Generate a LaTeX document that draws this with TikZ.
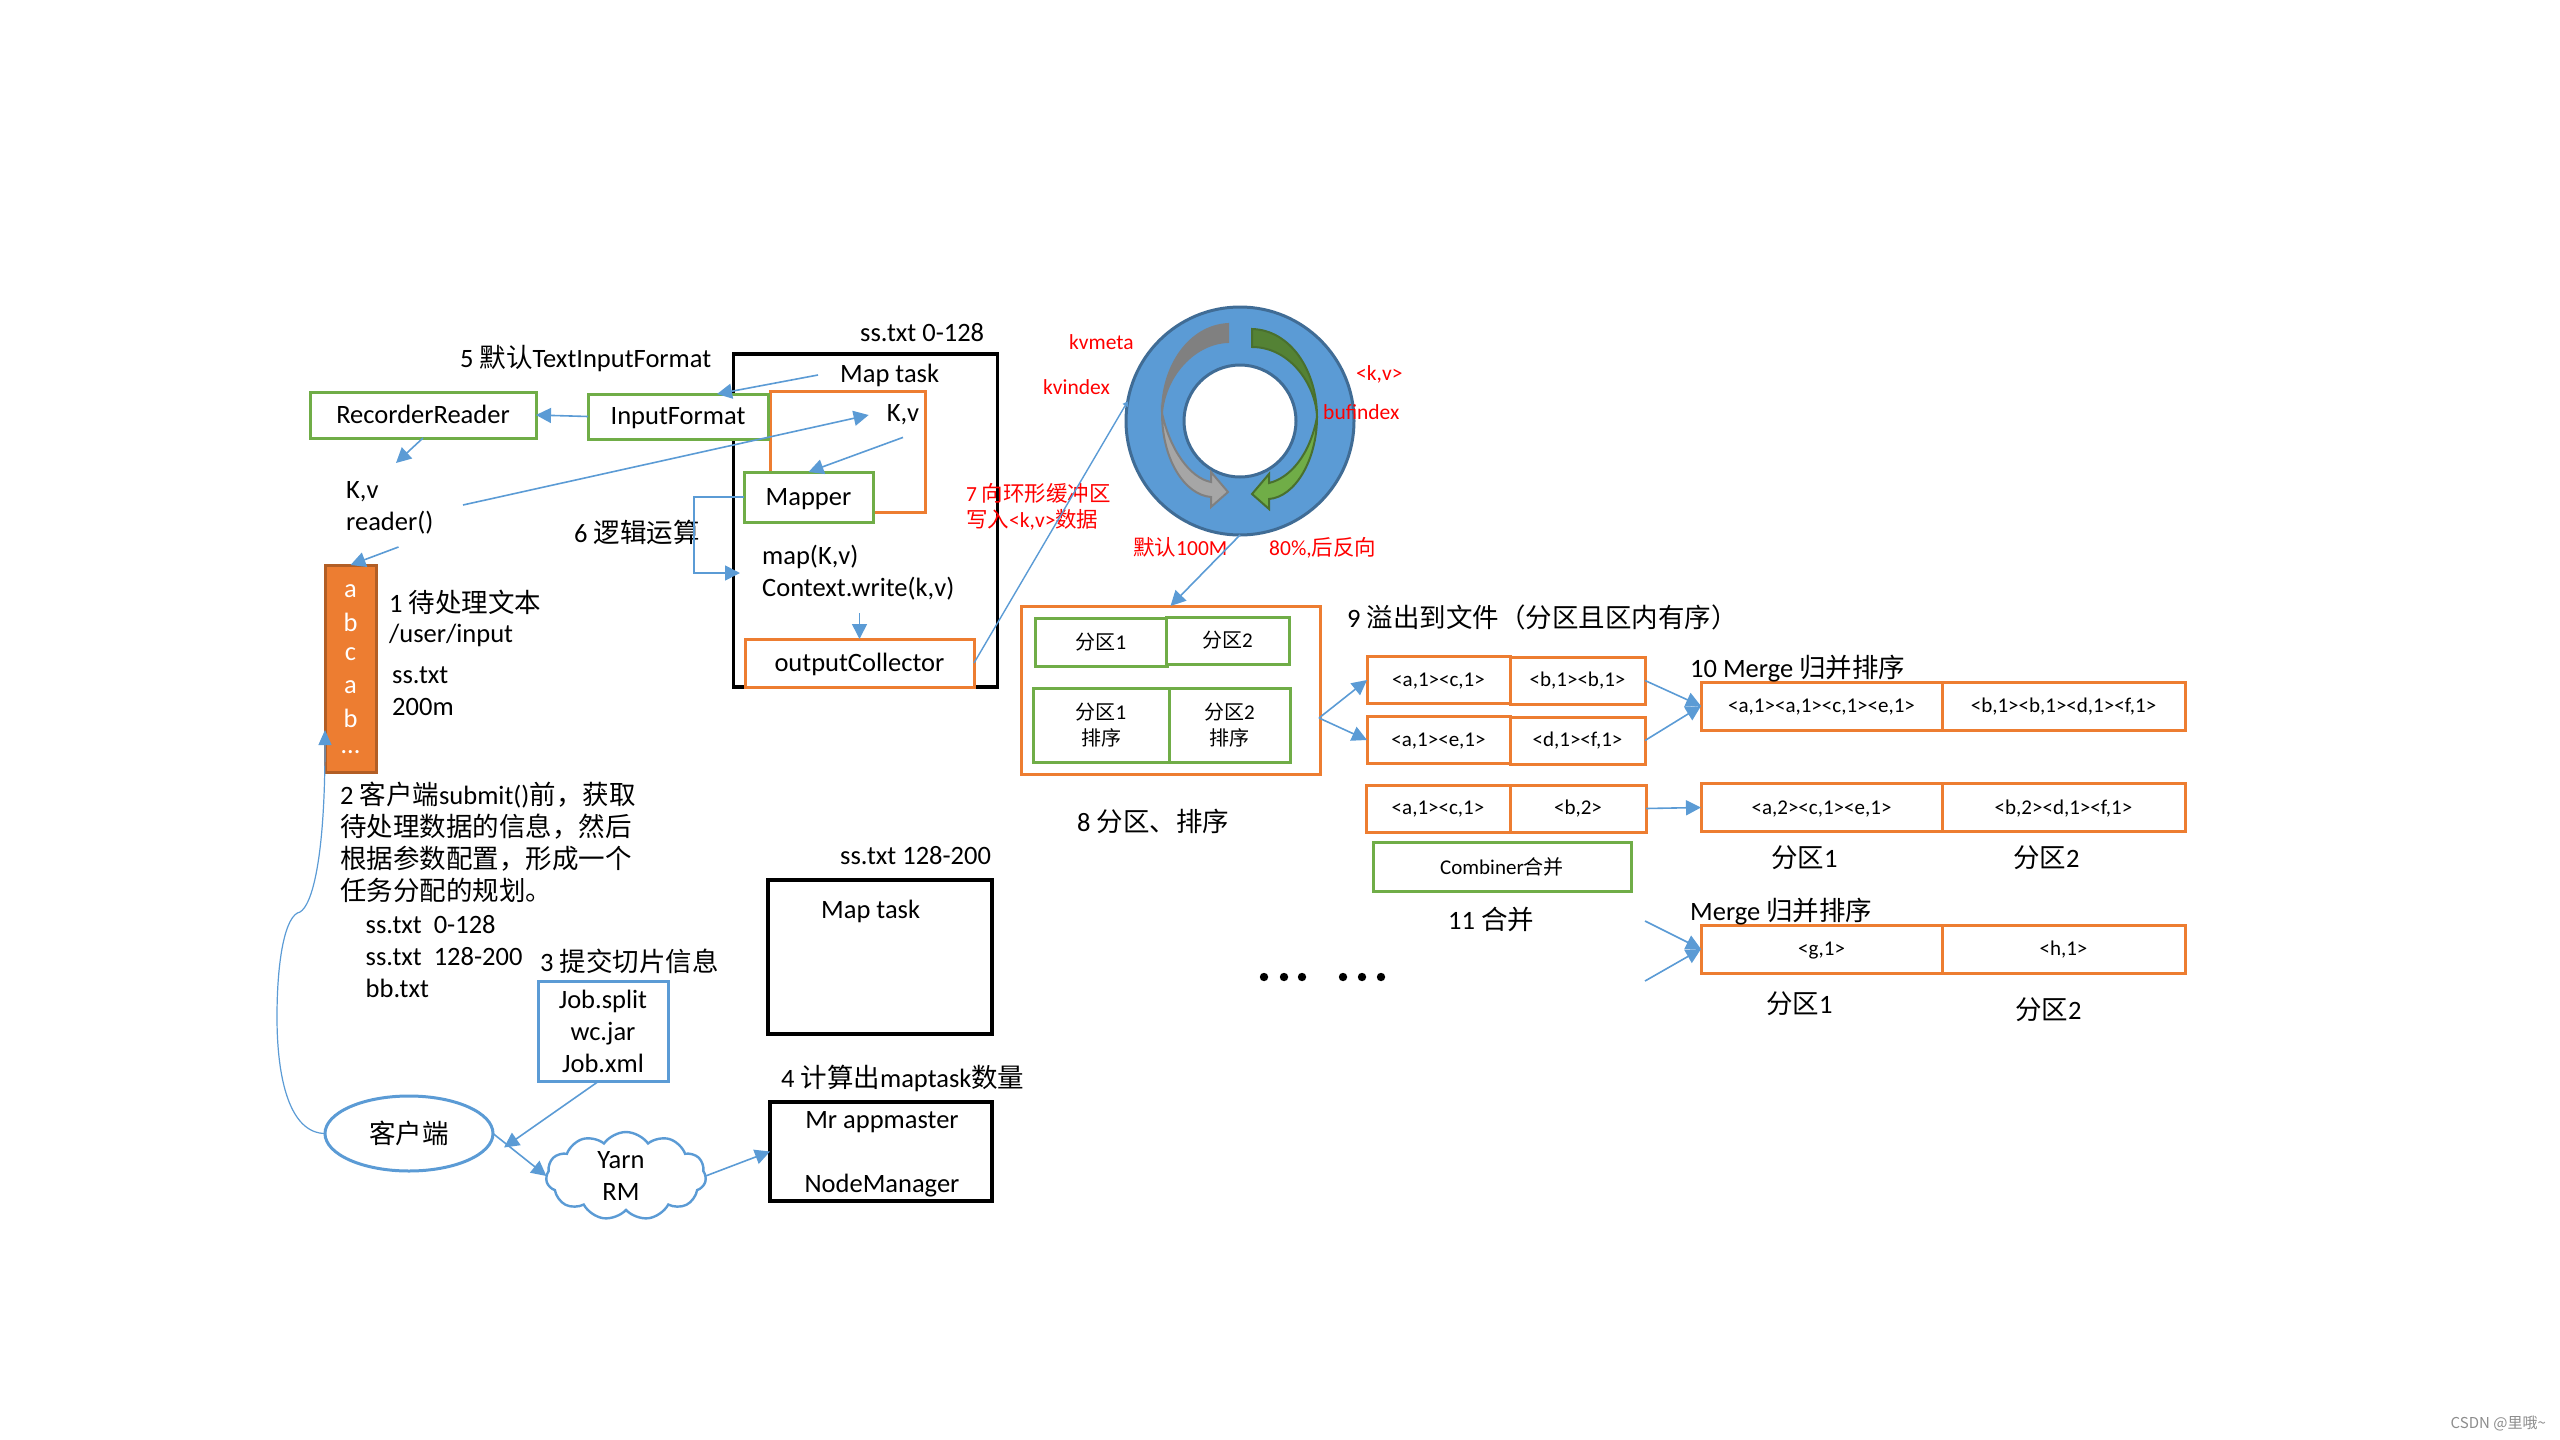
\documentclass[tikz,border=0pt]{standalone}
\usepackage{fontspec}
\setmainfont{Carlito}
\newfontfamily\cjk{Noto Sans CJK SC}
\usetikzlibrary{arrows.meta,shapes.geometric,shapes.symbols}
\definecolor{lineblue}{HTML}{5B9BD5}
\definecolor{boxgreen}{HTML}{70AD47}
\definecolor{boxorange}{HTML}{ED7D31}
\newcommand{\cnb}[1]{{\cjk\fontsize{26.5}{30}\selectfont #1}}
\newcommand{\cns}[1]{{\cjk\fontsize{20}{22}\selectfont #1}}
\newcommand{\cnr}[1]{{\cjk\fontsize{21.5}{26}\selectfont #1}}
\tikzset{
    lbl/.style={inner sep=0pt,font=\fontsize{26.5}{32}\selectfont,align=left},
    boxtext/.style={font=\fontsize{26.5}{30}\selectfont,text height=20pt,text depth=4pt},
    small/.style={inner sep=0pt,font=\fontsize{21}{26}\selectfont,align=center},
    redlbl/.style={inner sep=0pt,text=red,font=\fontsize{21.5}{26}\selectfont,align=left},
    boxbase/.style={draw,fill=white,line width=3pt,inner sep=0pt,outer sep=0pt,align=center},
    greenbox/.style={boxbase,draw=boxgreen},
    orangebox/.style={boxbase,draw=boxorange},
    blackbox/.style={boxbase,draw=black,line width=3.5pt},
    conn/.style={draw=lineblue,line width=1.6pt,-{Triangle[length=15pt,width=15pt,fill=lineblue]}},
}
\begin{document}
\begin{tikzpicture}[x=1pt,y=-1pt]
        \useasboundingbox (0,0) rectangle (2560,1440);
        % map task frames
        \node[blackbox,minimum width=264,minimum height=333] (task) at (865.5,520.5) {};
        \node[blackbox,minimum width=224,minimum height=154] (taskb) at (880,957) {};
        \node[blackbox,minimum width=222,minimum height=99] (mrbox) at (881,1151.5) {};
        \node[orangebox,minimum width=155,minimum height=121] (kvbox) at (847.5,451.5) {};
        \node[greenbox,boxtext,minimum width=226,minimum height=46] (reader) at (423,415) {RecorderReader};
        \node[greenbox,boxtext,minimum width=180,minimum height=45] (format) at (678,416.5) {InputFormat};
        \node[greenbox,boxtext,minimum width=129,minimum height=50] (mapper) at (808.5,497) {Mapper};
        \node[orangebox,boxtext,minimum width=229,minimum height=48] (collect) at (859.5,663) {outputCollector};
        % input file
        \node[boxbase,fill=boxorange,draw=boxorange!75!black,minimum width=51,minimum height=207] (file) at (350.5,668.5) {};
        \foreach \n/\y/\t in {fa/591/a,fb/622/b,fc/654/c,fd/687/a,fe/718/b,ff/752/\ldots} {
            \node[lbl,text=white] (\n) at (350.5,\y) {\t};
        }
        % ring buffer
        \node[circle,draw=lineblue!70!black,fill=lineblue,line width=3pt,minimum size=228,inner sep=0pt,outer sep=0pt] (ring) at (1240,421) {};
        \node[circle,draw=lineblue!70!black,fill=white,line width=3pt,minimum size=112,inner sep=0pt] (hole) at (1240,421) {};
        \fill[fill=black!50,draw=black!50,line width=2pt] (1228,324) .. controls (1190,326) and (1162,365) .. (1162,413) .. controls (1165,375) and (1195,343) .. (1228,342) -- cycle;
        \fill[fill=black!35,draw=black!50,line width=2pt] (1162,413) .. controls (1162,460) and (1185,495) .. (1211,497) -- (1211,507) -- (1228,492) -- (1211,472) -- (1211,482) .. controls (1190,478) and (1170,450) .. (1162,413) -- cycle;
        \fill[fill=boxgreen!75!black,draw=boxgreen!65!black,line width=2pt] (1252,329) .. controls (1290,330) and (1317,370) .. (1317,417) .. controls (1316,385) and (1290,347) .. (1252,347) -- cycle;
        \fill[fill=boxgreen,draw=boxgreen!65!black,line width=2pt] (1317,417) .. controls (1317,460) and (1295,497) .. (1269,499) -- (1269,509) -- (1252,494) -- (1269,474) -- (1269,483) .. controls (1290,478) and (1310,455) .. (1317,417) -- cycle;
        % partitions
        \node[orangebox,minimum width=299,minimum height=168] (sorted) at (1170.5,690) {};
        \foreach \n/\x/\y/\w/\h/\t in {pa/1101/642/132/48/{\cns{分区}1},pb/1227.5/640.5/123/47/{\cns{分区}2},pc/1101/725/136/74/{\cns{分区}1\\\cns{排序}},pd/1229.5/725/121/74/{\cns{分区}2\\\cns{排序}}} {
            \node[greenbox,small,line width=3pt,minimum width=\w,minimum height=\h] (\n) at (\x,\y) {\t};
        }
        \foreach \n/\x/\y/\w/\t in {ra/1438.5/680/143/{<a,1><c,1>},rb/1577.5/680.5/135/{<b,1><b,1>},rc/1438.5/740/143/{<a,1><e,1>},rd/1577.5/740.5/135/{<d,1><f,1>},re/1438/808.5/144/{<a,1><c,1>},rf/1578/808.5/136/{<b,2>}} {
            \node[orangebox,small,text height=16pt,text depth=4pt,minimum width=\w,minimum height=47] (\n) at (\x,\y) {\t};
        }
        \node[greenbox,small,minimum width=258,minimum height=49] (combine) at (1502,866.5) {Combiner\cns{合并}};
        \foreach \n/\y/\a/\b in {m/706/{<a,1><a,1><c,1><e,1>}/{<b,1><b,1><d,1><f,1>},s/807.5/{<a,2><c,1><e,1>}/{<b,2><d,1><f,1>},t/949/{<g,1>}/{<h,1>}} {
            \node[orangebox,small,text height=17pt,text depth=4pt,minimum width=241,minimum height=48] (\n a) at (1821.5,\y) {\a};
            \node[orangebox,small,text height=17pt,text depth=4pt,minimum width=243,minimum height=48] (\n b) at (2063.5,\y) {\b};
        }
        % client side
        \node[boxbase,draw=lineblue,font=\fontsize{26.5}{32}\selectfont,minimum width=130,minimum height=100] (job) at (603,1031) {Job.split\\wc.jar\\Job.xml};
        \node[ellipse,boxbase,draw=lineblue,minimum width=168,minimum height=75] (client) at (409,1133.5) {\cnb{客户端}};
        \node[cloud,cloud puffs=11,cloud puff arc=110,aspect=1.9,boxbase,draw=lineblue,line width=2.4pt,minimum width=160,minimum height=88] (yarn) at (626,1176) {};
        \node[lbl,align=center] (lyarn) at (621,1175.5) {Yarn\\RM};
        % texts
        \node[lbl,anchor=west] (topname) at (860,333) {ss.txt 0-128};
        \node[lbl,anchor=west] (lfive) at (460,359) {5 \cnb{默认}TextInputFormat};
        \node[lbl,anchor=west] (lmap) at (840,375) {Map task};
        \node[lbl] (lkv) at (903,415) {K,v};
        \node[lbl,anchor=west] (lread) at (346,508) {K,v\\reader()};
        \node[lbl,anchor=west] (lsix) at (574,532) {6 \cnb{逻辑运算}};
        \node[lbl,anchor=west] (lcode) at (762,573) {map(K,v)\\Context.write(k,v)};
        \node[lbl,anchor=west] (lone) at (389,602) {1 \cnb{待处理文本}};
        \node[lbl,anchor=west] (lpath) at (389,635) {/user/input};
        \node[lbl,anchor=west] (lsize) at (392,691) {ss.txt\\200m};
        \node[lbl,anchor=west] (ltwo) at (340,842) {2 \cnb{客户端}submit()\cnb{前，获取}\\\cnb{待处理数据的信息，然后}\\\cnb{根据参数配置，形成一个}\\\cnb{任务分配的规划。}};
        \node[lbl,anchor=west] (lfiles) at (365.5,957) {ss.txt\ \ 0-128\\ss.txt\ \ 128-200\\bb.txt};
        \node[lbl,anchor=west] (lthree) at (540,961) {3 \cnb{提交切片信息}};
        \node[lbl,anchor=west] (ltop2) at (840,856) {ss.txt 128-200};
        \node[lbl,anchor=west] (lmap2) at (821,911) {Map task};
        \node[lbl,anchor=west] (lfour) at (781,1078) {4 \cnb{计算出}maptask\cnb{数量}};
        \node[lbl] (lmr) at (882,1122) {Mr appmaster};
        \node[lbl] (lnm) at (882,1186) {NodeManager};
        \node[lbl,anchor=west] (leight) at (1077,821) {8 \cnb{分区、排序}};
        \node[lbl,anchor=west] (lnine) at (1347,617) {9 \cnb{溢出到文件（分区且区内有序）}};
        \node[lbl,anchor=west] (lten) at (1690,669) {10 Merge \cnb{归并排序}};
        \node[lbl,anchor=west] (leleven) at (1448,919) {11 \cnb{合并}};
        \node[lbl,anchor=west] (lmerge) at (1690,912) {Merge \cnb{归并排序}};
        \foreach \n/\x/\y/\t in {pua/1771/858/1,pub/2013/858/2,puc/1766/1004/1,pud/2015/1010/2} {
            \node[lbl,anchor=west] (\n) at (\x,\y) {\cnb{分区}\t};
        }
        % red notes
        \node[redlbl,anchor=west] (rmeta) at (1069,342) {kvmeta};
        \node[redlbl,anchor=west] (rindex) at (1043,387) {kvindex};
        \node[redlbl,anchor=west] (rkv) at (1356,374) {<k,v>};
        \node[redlbl,anchor=west] (rbuf) at (1323,412) {bufindex};
        \node[redlbl,anchor=west] (rseven) at (966,507) {7 \cnr{向环形缓冲区}\\\cnr{写入}<k,v>\cnr{数据}};
        \node[redlbl,anchor=west] (rdef) at (1133,547) {\cnr{默认}100M};
        \node[redlbl,anchor=west] (reighty) at (1269,548) {80\%,\cnr{后反向}};
        \foreach \x in {1264,1284,1302,1343,1362,1381} {
            \fill (\x,977) circle (4.2);
        }
        \node[inner sep=0pt,anchor=east,text=black!45,font=\fontsize{15}{17}\selectfont\cjk] (mark) at (2546,1424) {CSDN @里哦\textasciitilde};
        % free ends
        \coordinate (kvin) at (396,463);
        \coordinate (kvout) at (463,505);
        \coordinate (fan) at (1319,718);
        \coordinate (tua) at (1645,921);
        \coordinate (tub) at (1645,981);
        % connectors
        \draw[conn] ([xshift=-22pt]lmap.west) -- ([xshift=39pt]format.north);
        \draw[conn] (format.west) -- (reader.east);
        \draw[conn] (reader.south) -- (kvin);
        \draw[conn] (kvout) -- ([xshift=-18pt]lkv.west);
        \draw[conn] ([yshift=-12pt]lkv.south) -- (mapper.north);
        \draw[conn] (mapper.west) -- ++(-50,0) |- ([xshift=-22pt]lcode.west);
        \draw[conn] ([yshift=26pt]collect.north) -- (collect.north);
        \draw[conn] ([shift={(48pt,18pt)}]file.north) -- (file.north);
        \draw[draw=lineblue,line width=1.2pt,-{Triangle[length=15pt,width=13pt,fill=lineblue]}] (client.west) .. controls (290,1133) and (277,1080) .. (277,1017) .. controls (277,960) and (285,915) .. (300,912) .. controls (312,905) and (325,860) .. (325,730);
        \draw[conn] ([xshift=-4pt]job.south) -- ([shift={(11pt,-14pt)}]client.east);
        \draw[conn] (client.east) -- (yarn.west);
        \draw[conn] (yarn.east) -- (mrbox.west);
        \draw[line width=1.4pt,draw=lineblue,-{Triangle[length=5pt,width=6pt,fill=lineblue]}] (collect.east) -- (ring.170);
        \draw[conn] (ring.south) -- (sorted.north);
        \draw[conn] (fan) -- (ra.west);
        \draw[conn] (fan) -- (rc.west);
        \draw[conn] (rb.east) -- (ma.west);
        \draw[conn] (rd.east) -- (ma.west);
        \draw[conn] (rf.east) -- (sa.west);
        \draw[conn] (tua) -- (ta.west);
        \draw[conn] (tub) -- (ta.west);
\end{tikzpicture}
\end{document}
